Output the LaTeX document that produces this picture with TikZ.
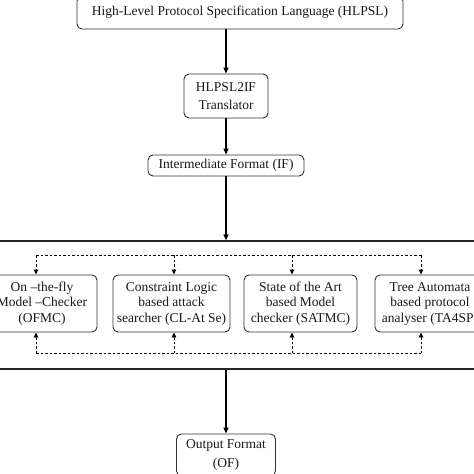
\documentclass[tikz,border=0pt]{standalone}
\usepackage{fontspec}
\setmainfont{Liberation Serif}
\usetikzlibrary{arrows.meta}
\begin{document}
\begin{tikzpicture}[x=1pt,y=-1pt,
 box/.style={draw=black!80, line width=0.9pt, rounded corners=5pt, align=center, font=\fontsize{13.5}{18.5}\selectfont, inner sep=0pt, text=black!90},
 tool/.style={box, font=\fontsize{13.5}{15.5}\selectfont, minimum height=57pt},
 flow/.style={line width=1.3pt, -{Triangle[length=6pt,width=5pt]}},
 dline/.style={dash pattern=on 2.5pt off 2pt, line width=0.9pt},
 dflow/.style={dline, -{Triangle[length=5pt,width=4.5pt]}}]
\useasboundingbox (0,0) rectangle (474,474);
\clip (0,0) rectangle (474,474);
\fill[white] (0,0) rectangle (474,474);

\node (hlpsl) at (240,12.5) [box, minimum width=326pt, minimum height=33pt] {High-Level Protocol Specification Language (HLPSL)};
\node (h2if) at (226,96) [box, minimum width=84pt, minimum height=44pt] {HLPSL2IF\\Translator};
\node (if) at (226,165.5) [box, minimum width=156pt, minimum height=21pt] {Intermediate Format (IF)};
\node (sys) at (237,305) [draw=black!85, line width=1.2pt, minimum width=484pt, minimum height=128pt, inner sep=0pt] {};

\node (t1) at (42,303.5) [tool, minimum width=110pt] {On --the-fly\\Model --Checker\\(OFMC)};
\node (t2) at (171.5,303.5) [tool, minimum width=117pt] {Constraint Logic\\based attack\\searcher (CL-At Se)};
\node (t3) at (300.5,303.5) [tool, minimum width=113pt] {State of the Art\\based Model\\checker (SATMC)};
\node (t4) at (430,303.5) [tool, minimum width=110pt] {Tree Automata\\based protocol\\analyser (TA4SP)};

\node (of) at (226,455) [box, minimum width=99pt, minimum height=42pt] {Output Format\\(OF)};

\draw[flow] (hlpsl.south -| h2if) -- (h2if.north);
\draw[flow] (h2if) -- (if);
\draw[flow] (if.south) -- (if.south |- sys.north);
\draw[flow] (sys.south -| of) -- (of.north);

\coordinate (a1) at (36,255);
\coordinate (a2) at (174,255);
\coordinate (a3) at (292,255);
\coordinate (a4) at (421,255);
\coordinate (b1) at (36,353);
\coordinate (b2) at (174,353);
\coordinate (b3) at (292,353);
\coordinate (b4) at (421,353);

\draw[dline] (a1) -- (a4);
\draw[dline] (b1) -- (b4);
\draw[dflow] (a1) -- (a1 |- t1.north);
\draw[dflow] (a2) -- (a2 |- t2.north);
\draw[dflow] (a3) -- (a3 |- t3.north);
\draw[dflow] (a4) -- (a4 |- t4.north);
\draw[dflow] (b1) -- (b1 |- t1.south);
\draw[dflow] (b2) -- (b2 |- t2.south);
\draw[dflow] (b3) -- (b3 |- t3.south);
\draw[dflow] (b4) -- (b4 |- t4.south);
\end{tikzpicture}
\end{document}
